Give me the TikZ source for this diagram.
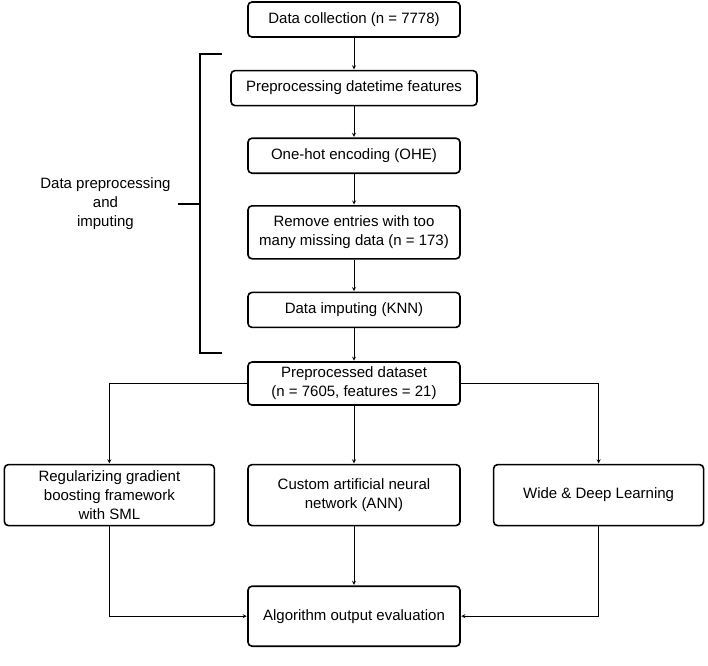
\documentclass[tikz,border=0pt]{standalone}
\usepackage{fontspec}
\setmainfont{Liberation Sans}
\usetikzlibrary{arrows,positioning}

\begin{document}
\begin{tikzpicture}[x=1pt,y=-1pt,node distance=32pt,>=stealth,
    box/.style={draw,line width=1.6pt,rounded corners=4pt,align=center,
      minimum width=212pt,minimum height=35pt,inner sep=2pt,
      font=\fontsize{15}{19}\selectfont},
    link/.style={->,line width=0.8pt,shorten >=0.5pt}]

  \useasboundingbox (0,0) rectangle (708,665);

  \node[box]                                   (collect)  at (354,19.5) {Data collection (n = 7778)};
  \node[box,minimum width=246pt] (datetime) [below=of collect]  {Preprocessing datetime features};
  \node[box]                     (ohe)      [below=31pt of datetime] {One-hot encoding (OHE)};
  \node[box,minimum height=53pt] (remove)   [below=31pt of ohe]  {Remove entries with too\\many missing data (n = 173)};
  \node[box]                     (impute)   [below=of remove]    {Data imputing (KNN)};
  \node[box,minimum height=43pt] (dataset)  [below=33pt of impute] {Preprocessed dataset\\(n = 7605, features = 21)};
  \node[box,minimum height=61pt] (ann)      [below=58pt of dataset] {Custom artificial neural\\network (ANN)};
  \node[box,minimum height=61pt,minimum width=210pt] (rgb) [left=of ann]  {Regularizing gradient\\boosting framework\\with SML};
  \node[box,minimum height=61pt,minimum width=210pt] (wdl) [right=of ann] {Wide \& Deep Learning};
  \node[box,minimum height=60pt] (eval)     [below=59pt of ann]  {Algorithm output evaluation};

  % bracket of the preprocessing steps
  \coordinate (btop) at (222,54);
  \coordinate (bbot) at (222,353);
  \coordinate (tick) at (178,204);
  \draw[line width=1.6pt] (btop) -- ++(-22,0) -- (200,353) -- (bbot);
  \draw[line width=1.6pt] (200,204) -- (tick);
  \node[align=center,font=\fontsize{15}{19}\selectfont,left=4pt of tick] (prep) {Data preprocessing\\and\\imputing};

  \draw[link] (collect)  -- (datetime);
  \draw[link] (datetime) -- (ohe);
  \draw[link] (ohe)      -- (remove);
  \draw[link] (remove)   -- (impute);
  \draw[link] (impute)   -- (dataset);
  \draw[link] (dataset)  -- (ann);
  \draw[link] (dataset.west) -| (rgb.north);
  \draw[link] (dataset.east) -| (wdl.north);
  \draw[link] (ann)      -- (eval);
  \draw[link] (rgb.south) |- (eval.west);
  \draw[link] (wdl.south) |- (eval.east);
\end{tikzpicture}
\end{document}
